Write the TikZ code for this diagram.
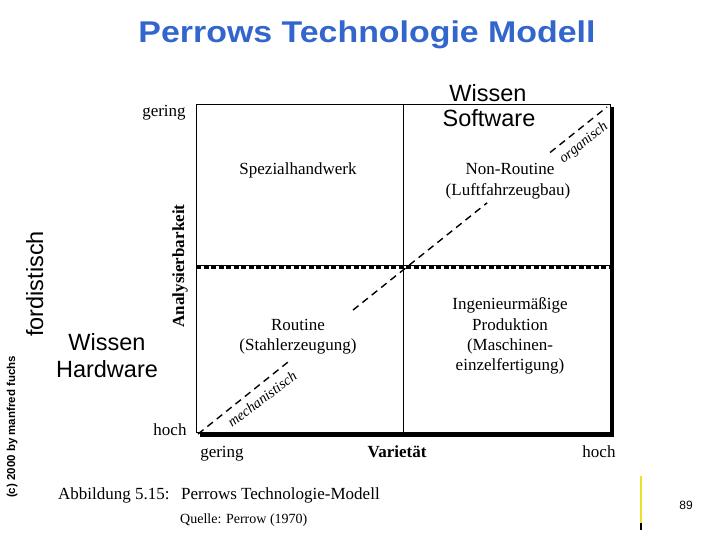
\documentclass[tikz,border=0pt]{standalone}
\usepackage{fontspec}
\setmainfont{Liberation Serif}
\newfontfamily\arialfont{Liberation Sans}
\newfontfamily\titlefont[FakeStretch=1.13]{Liberation Sans}
\usetikzlibrary{calc}
\definecolor{titleblue}{RGB}{51,102,204}
\definecolor{markyellow}{RGB}{235,225,40}
\begin{document}
\begin{tikzpicture}[x=1pt,y=-1pt,
  txt/.style={inner sep=0pt,anchor=base,font=\fontsize{17}{20}\selectfont},
  btxt/.style={inner sep=0pt,anchor=base,font=\fontsize{17}{20}\selectfont\bfseries},
  itxt/.style={inner sep=0pt,font=\fontsize{14.5}{17}\selectfont\itshape},
  big/.style={inner sep=0pt,anchor=base,font=\arialfont\fontsize{23.5}{27}\selectfont},
  diag/.style={line width=1.4pt,dash pattern=on 7pt off 5pt},
  frame/.style={line width=0.9pt},
]
\useasboundingbox (0,0) rectangle (720,540);
\node[inner sep=0pt,anchor=base,text=titleblue,font=\titlefont\bfseries\fontsize{30}{36}\selectfont] (title) at (367,43) {Perrows Technologie Modell};

% box with shadow
\fill (200,432) rectangle (614,437);
\fill (610,107) rectangle (614,437);
\draw[frame] (196,104) rectangle (610,432);
\draw[frame] (403,104) -- (403,432);
\draw[frame] (196,265.5) -- (610,265.5);
\draw[line width=2.5pt,dash pattern=on 5pt off 2.5pt] (196,267.5) -- (610,267.5);

% diagonal
\coordinate (A) at (198,434);
\coordinate (B) at (607,107);
\draw[diag] (A) -- ($(A)!0.225!(B)$);
\draw[diag] ($(A)!0.379!(B)$) -- ($(A)!0.707!(B)$);
\draw[diag] ($(A)!0.861!(B)$) -- (B);
\node[itxt,rotate=37] (mech) at (262,399) {mechanistisch};
\node[itxt,rotate=38.6] (org) at (584,143) {organisch};

% axis labels
\node[txt] (g1) at (164,117) {gering};
\node[txt] (h1) at (170,435) {hoch};
\node[txt] (g2) at (222,457) {gering};
\node[btxt] (var) at (397,457) {Varietät};
\node[txt] (h2) at (599,457) {hoch};
\node[btxt,rotate=90] (ana) at (184,266) {Analysierbarkeit};

% quadrants
\node[txt] (spez) at (298,175) {Spezialhandwerk};
\node[txt] (nr1) at (510,174.5) {Non-Routine};
\node[txt] (nr2) at (508,195.5) {(Luftfahrzeugbau)};
\node[txt] (rt1) at (298,330.5) {Routine};
\node[txt] (rt2) at (298,350.5) {(Stahlerzeugung)};
\node[txt] (in1) at (510,309.5) {Ingenieurmäßige};
\node[txt] (in2) at (510,330.5) {Produktion};
\node[txt] (in3) at (510,350.5) {(Maschinen-};
\node[txt] (in4) at (510,370.5) {einzelfertigung)};

% annotations
\node[big] (ws1) at (488,102) {Wissen};
\node[big] (ws2) at (489,127) {Software};
\node[big] (wh1) at (107,350) {Wissen};
\node[big] (wh2) at (107,377) {Hardware};
\node[big,rotate=90] (ford) at (43,284) {fordistisch};
\node[inner sep=0pt,anchor=base,rotate=90,font=\arialfont\bfseries\fontsize{11.5}{14}\selectfont] (copy) at (15,427) {(c) 2000 by manfred fuchs};

% caption
\node[txt,anchor=base west] (abb) at (58,499) {Abbildung 5.15:};
\node[txt,anchor=base west] (cap) at (181,499) {Perrows Technologie-Modell};
\node[inner sep=0pt,anchor=base west,font=\fontsize{14}{16}\selectfont] (src) at (180,523) {Quelle: Perrow (1970)};

% page mark
\coordinate (y1) at (641,476);
\coordinate (y2) at (641,523);
\coordinate (y3) at (641,530);
\draw[markyellow,line width=2pt] (y1) -- (y2);
\draw[line width=1.2pt] (y2) -- (y3);
\node[inner sep=0pt,anchor=base,font=\arialfont\fontsize{12}{14}\selectfont] (pg) at (686,509) {89};
\end{tikzpicture}
\end{document}
